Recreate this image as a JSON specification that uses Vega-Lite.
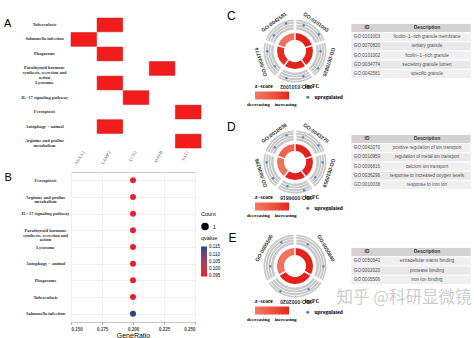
{
  "$schema": "https://vega.github.io/schema/vega-lite/v6.json",
  "background": "white",
  "padding": {"left": 3, "top": 10, "right": 2, "bottom": 2},
  "datasets": {
    "heat": [
      {"pathway": "Tuberculosis", "gene": "LAMP2"},
      {"pathway": "Salmonella infection", "gene": "ANXA2"},
      {"pathway": "Phagosome", "gene": "LAMP2"},
      {"pathway": "Parathyroid hormone synthesis, secretion and action", "gene": "MAFB"},
      {"pathway": "Lysosome", "gene": "LAMP2"},
      {"pathway": "IL−17 signaling pathway", "gene": "LCN2"},
      {"pathway": "Ferroptosis", "gene": "SAT1"},
      {"pathway": "Autophagy − animal", "gene": "LAMP2"},
      {"pathway": "Arginine and proline metabolism", "gene": "SAT1"}
    ],
    "dot": [
      {"pathway": "Ferroptosis", "GeneRatio": 0.2, "Count": 1, "qvalue": 0.0957},
      {"pathway": "Arginine and proline metabolism", "GeneRatio": 0.2, "Count": 1, "qvalue": 0.0957},
      {"pathway": "IL−17 signaling pathway", "GeneRatio": 0.2, "Count": 1, "qvalue": 0.0957},
      {"pathway": "Parathyroid hormone synthesis, secretion and action", "GeneRatio": 0.2, "Count": 1, "qvalue": 0.0957},
      {"pathway": "Lysosome", "GeneRatio": 0.2, "Count": 1, "qvalue": 0.0957},
      {"pathway": "Autophagy − animal", "GeneRatio": 0.2, "Count": 1, "qvalue": 0.0957},
      {"pathway": "Phagosome", "GeneRatio": 0.2, "Count": 1, "qvalue": 0.0957},
      {"pathway": "Tuberculosis", "GeneRatio": 0.2, "Count": 1, "qvalue": 0.0957},
      {"pathway": "Salmonella infection", "GeneRatio": 0.2, "Count": 1, "qvalue": 0.1155}
    ],
    "segC": [
      {"rank": 1, "go": "GO:0101003", "z": 2},
      {"rank": 2, "go": "GO:0070820", "z": 2},
      {"rank": 3, "go": "GO:0101002", "z": 2},
      {"rank": 4, "go": "GO:0034774", "z": 1.9},
      {"rank": 5, "go": "GO:0042581", "z": 1.1}
    ],
    "segD": [
      {"rank": 1, "go": "GO:0043270", "z": 2},
      {"rank": 2, "go": "GO:0010959", "z": 2},
      {"rank": 3, "go": "GO:0006816", "z": 2},
      {"rank": 4, "go": "GO:0036296", "z": 1.1},
      {"rank": 5, "go": "GO:0010038", "z": 1.3}
    ],
    "segE": [
      {"rank": 1, "go": "GO:0050840", "z": 2},
      {"rank": 2, "go": "GO:0002020", "z": 2},
      {"rank": 3, "go": "GO:0005506", "z": 1.1}
    ],
    "geneC": [
      {"k": 1, "gene": "LCN2", "logFC": 1.6, "reg": "upregulated"},
      {"k": 2, "gene": "LAMP2", "logFC": 2.3, "reg": "upregulated"},
      {"k": 3, "gene": "LCN2", "logFC": 1.2, "reg": "upregulated"},
      {"k": 4, "gene": "ANXA2", "logFC": 2.0, "reg": "upregulated"},
      {"k": 5, "gene": "LAMP2", "logFC": 1.4, "reg": "upregulated"},
      {"k": 6, "gene": "LCN2", "logFC": 2.2, "reg": "upregulated"},
      {"k": 7, "gene": "LCN2", "logFC": 1.1, "reg": "upregulated"},
      {"k": 8, "gene": "ANXA2", "logFC": 1.9, "reg": "upregulated"},
      {"k": 9, "gene": "LCN2", "logFC": 1.5, "reg": "upregulated"},
      {"k": 10, "gene": "LAMP2", "logFC": 2.4, "reg": "upregulated"}
    ],
    "geneD": [
      {"k": 1, "gene": "SAT1", "logFC": 1.3, "reg": "upregulated"},
      {"k": 2, "gene": "LCN2", "logFC": 2.2, "reg": "upregulated"},
      {"k": 3, "gene": "SAT1", "logFC": 1.8, "reg": "upregulated"},
      {"k": 4, "gene": "ANXA2", "logFC": 1.0, "reg": "upregulated"},
      {"k": 5, "gene": "SAT1", "logFC": 2.3, "reg": "upregulated"},
      {"k": 6, "gene": "LCN2", "logFC": 1.2, "reg": "upregulated"},
      {"k": 7, "gene": "SAT1", "logFC": 1.7, "reg": "upregulated"},
      {"k": 8, "gene": "ANXA2", "logFC": 2.1, "reg": "upregulated"},
      {"k": 9, "gene": "SAT1", "logFC": 1.1, "reg": "upregulated"},
      {"k": 10, "gene": "LCN2", "logFC": 2.0, "reg": "upregulated"}
    ],
    "geneE": [
      {"k": 1, "gene": "ANXA2", "logFC": 1.2, "reg": "upregulated"},
      {"k": 2, "gene": "LCN2", "logFC": 2.1, "reg": "upregulated"},
      {"k": 3, "gene": "ANXA2", "logFC": 1.6, "reg": "upregulated"},
      {"k": 4, "gene": "LCN2", "logFC": 2.3, "reg": "upregulated"},
      {"k": 5, "gene": "SAT1", "logFC": 1.0, "reg": "upregulated"},
      {"k": 6, "gene": "SAT1", "logFC": 1.9, "reg": "upregulated"}
    ],
    "tabC": [
      {"ID": "ID", "Description": "Description"},
      {"ID": "GO:0101003", "Description": "ficolin−1−rich granule membrane"},
      {"ID": "GO:0070820", "Description": "tertiary granule"},
      {"ID": "GO:0101002", "Description": "ficolin−1−rich granule"},
      {"ID": "GO:0034774", "Description": "secretory granule lumen"},
      {"ID": "GO:0042581", "Description": "specific granule"}
    ],
    "tabD": [
      {"ID": "ID", "Description": "Description"},
      {"ID": "GO:0043270", "Description": "positive regulation of ion transport"},
      {"ID": "GO:0010959", "Description": "regulation of metal ion transport"},
      {"ID": "GO:0006816", "Description": "calcium ion transport"},
      {"ID": "GO:0036296", "Description": "response to increased oxygen levels"},
      {"ID": "GO:0010038", "Description": "response to iron ion"}
    ],
    "tabE": [
      {"ID": "ID", "Description": "Description"},
      {"ID": "GO:0050840", "Description": "extracellular matrix binding"},
      {"ID": "GO:0002020", "Description": "protease binding"},
      {"ID": "GO:0005506", "Description": "iron ion binding"}
    ]
  },
  "spacing": 4,
  "resolve": {"scale": {"color": "independent", "fill": "independent", "size": "independent", "theta": "independent", "radius": "independent", "angle": "independent"}, "legend": {"color": "independent", "fill": "independent", "size": "independent"}},
  "hconcat": [
    {
      "spacing": 6,
      "resolve": {"scale": {"color": "independent", "fill": "independent", "size": "independent"}, "legend": {"color": "independent", "fill": "independent", "size": "independent"}},
      "vconcat": [
        {
          "title": {"text": "A", "orient": "left", "anchor": "end", "angle": 0, "fontSize": 11, "offset": 2},
          "width": 130,
          "height": 130,
          "data": {"name": "heat"},
          "mark": {"type": "rect", "color": "#f21c1c", "stroke": "#c41010", "strokeWidth": 0.5},
          "encoding": {
            "x": {"field": "gene", "type": "nominal",
              "scale": {"domain": ["ANXA2", "LAMP2", "LCN2", "MAFB", "SAT1"], "paddingInner": 0.02, "paddingOuter": 0},
              "axis": {"title": null, "domain": false, "ticks": false, "labelAngle": -60, "labelFontSize": 4.5, "labelFont": "Liberation Serif", "labelColor": "#666", "labelPadding": 3}},
            "y": {"field": "pathway", "type": "nominal",
              "scale": {"domain": ["Tuberculosis", "Salmonella infection", "Phagosome", "Parathyroid hormone synthesis, secretion and action", "Lysosome", "IL−17 signaling pathway", "Ferroptosis", "Autophagy − animal", "Arginine and proline metabolism"], "paddingInner": 0.05, "paddingOuter": 0},
              "axis": {"title": null, "domain": false, "ticks": false, "labelAlign": "center", "labelPadding": 27, "labelFontSize": 4.4, "labelLineHeight": 4.6, "labelFont": "Liberation Serif", "labelFontWeight": "bold", "labelColor": "#333",
                "labelExpr": "datum.value == 'Parathyroid hormone synthesis, secretion and action' ? ['Parathyroid hormone', 'synthesis, secretion and', 'action'] : datum.value == 'Arginine and proline metabolism' ? ['Arginine and proline', 'metabolism'] : datum.label"}}
          }
        },
        {
          "title": {"text": "B", "orient": "left", "anchor": "end", "angle": 0, "fontSize": 11, "offset": 2},
          "width": 124,
          "height": 150,
          "data": {"name": "dot"},
          "view": {"stroke": "#c8c8c8"},
          "mark": {"type": "circle", "opacity": 1},
          "encoding": {
            "x": {"field": "GeneRatio", "type": "quantitative", "scale": {"domain": [0.15, 0.25]},
              "axis": {"values": [0.15, 0.175, 0.2, 0.225, 0.25], "format": ".3f", "title": "GeneRatio", "titleFontSize": 7, "titleFont": "Liberation Sans", "titleFontWeight": "normal", "titlePadding": 1, "labelFontSize": 4.5, "labelFont": "Liberation Sans", "labelFontWeight": "bold", "labelColor": "#444", "domain": false, "tickSize": 2, "tickColor": "#999", "grid": true, "gridColor": "#efefef", "labelPadding": 2}},
            "y": {"field": "pathway", "type": "nominal",
              "scale": {"domain": ["Ferroptosis", "Arginine and proline metabolism", "IL−17 signaling pathway", "Parathyroid hormone synthesis, secretion and action", "Lysosome", "Autophagy − animal", "Phagosome", "Tuberculosis", "Salmonella infection"]},
              "axis": {"title": null, "domain": false, "ticks": false, "grid": true, "gridColor": "#efefef", "labelAlign": "center", "labelPadding": 26, "labelFontSize": 4.5, "labelLineHeight": 4.7, "labelFont": "Liberation Serif", "labelFontWeight": "bold", "labelColor": "#333",
                "labelExpr": "datum.value == 'Parathyroid hormone synthesis, secretion and action' ? ['Parathyroid hormone', 'synthesis, secretion and', 'action'] : datum.value == 'Arginine and proline metabolism' ? ['Arginine and proline', 'metabolism'] : datum.label"}},
            "size": {"field": "Count", "type": "quantitative", "scale": {"type": "linear", "domain": [0, 1], "range": [0, 36]},
              "legend": {"orient": "none", "legendX": 130, "legendY": 40, "title": "Count", "values": [1], "format": "d", "symbolFillColor": "#000000", "symbolStrokeColor": "#000000", "titleFontSize": 5.5, "labelFontSize": 5, "titleFont": "Liberation Sans", "labelFont": "Liberation Sans", "titleFontWeight": "normal"}},
            "color": {"field": "qvalue", "type": "quantitative",
              "scale": {"domain": [0.0945, 0.1157], "range": ["#f0162c", "#1f4592"], "interpolate": "lab"},
              "legend": {"orient": "none", "legendX": 130, "legendY": 64, "title": "qvalue", "values": [0.095, 0.1, 0.105, 0.11, 0.115], "format": ".3f", "gradientLength": 30, "gradientThickness": 6, "titleFontSize": 5.5, "labelFontSize": 4.5, "titleFont": "Liberation Sans", "labelFont": "Liberation Sans", "titleFontWeight": "normal"}}
          }
        }
      ]
    },
    {
      "spacing": 14,
      "resolve": {"scale": {"color": "independent", "fill": "independent", "theta": "independent", "radius": "independent", "angle": "independent"}, "legend": {"color": "independent", "fill": "independent"}},
      "vconcat": [
        {
          "title": {"text": "C", "orient": "left", "anchor": "end", "angle": 0, "fontSize": 12, "offset": 10},
          "spacing": 16,
          "center": true,
          "bounds": "flush",
          "resolve": {"scale": {"color": "independent", "fill": "independent", "theta": "independent", "radius": "independent", "angle": "independent"}, "legend": {"color": "independent", "fill": "independent"}},
          "hconcat": [
            {
              "width": 80, "height": 66,
              "resolve": {"scale": {"theta": "independent"}},
              "layer": [
                {"data": {"name": "segC"}, "mark": {"type": "arc", "radius": 31.5, "radius2": 21.5, "padAngle": 0.07, "color": "#c9c9c9"},
                  "encoding": {"theta": {"aggregate": "count", "type": "quantitative", "stack": true}, "order": {"field": "rank", "type": "quantitative"}, "detail": {"field": "go", "type": "nominal"}}},
                {"data": {"name": "segC"}, "mark": {"type": "arc", "radius": 24.6, "radius2": 24.0, "padAngle": 0.07, "color": "#ffffff"},
                  "encoding": {"theta": {"aggregate": "count", "type": "quantitative", "stack": true}, "order": {"field": "rank", "type": "quantitative"}, "detail": {"field": "go", "type": "nominal"}}},
                {"data": {"name": "segC"}, "mark": {"type": "arc", "radius": 27.2, "radius2": 26.6, "padAngle": 0.07, "color": "#ffffff"},
                  "encoding": {"theta": {"aggregate": "count", "type": "quantitative", "stack": true}, "order": {"field": "rank", "type": "quantitative"}, "detail": {"field": "go", "type": "nominal"}}},
                {"data": {"name": "segC"}, "mark": {"type": "arc", "radius": 29.8, "radius2": 29.2, "padAngle": 0.07, "color": "#ffffff"},
                  "encoding": {"theta": {"aggregate": "count", "type": "quantitative", "stack": true}, "order": {"field": "rank", "type": "quantitative"}, "detail": {"field": "go", "type": "nominal"}}},
                {"data": {"name": "segC"}, "mark": {"type": "arc", "radius": 18, "radius2": 11, "padAngle": 0.07},
                  "encoding": {"theta": {"aggregate": "count", "type": "quantitative", "stack": true}, "order": {"field": "rank", "type": "quantitative"}, "detail": {"field": "go", "type": "nominal"},
                    "fill": {"field": "z", "type": "quantitative", "scale": {"domain": [1, 2], "range": ["#f27866", "#e3221c"]},
                      "legend": {"orient": "bottom", "direction": "horizontal", "title": "z−score", "values": [1.1, 1.9], "labelExpr": "datum.value < 1.5 ? 'decreasing' : 'increasing'", "gradientLength": 34, "gradientThickness": 8, "titleFontSize": 5.5, "labelFontSize": 5, "titleFont": "Liberation Serif", "labelFont": "Liberation Serif", "labelFontWeight": "bold", "titleFontWeight": "bold", "titlePadding": 2, "offset": 0}}}},
                {"data": {"name": "segC"}, "mark": {"type": "text", "radius": 36, "fontSize": 5.2, "font": "Liberation Sans", "fontWeight": "bold", "color": "#333", "baseline": "middle", "align": "center"},
                  "encoding": {"theta": {"aggregate": "count", "type": "quantitative", "stack": true}, "order": {"field": "rank", "type": "quantitative"}, "detail": {"field": "go", "type": "nominal"}, "text": {"field": "go", "type": "nominal"},
                    "angle": {"field": "rank", "type": "quantitative", "scale": {"domain": [0, 5], "range": [-36, 324]}, "legend": null}}},
                {"data": {"name": "geneC"}, "mark": {"type": "text", "text": "●", "fontSize": 5.5, "baseline": "middle", "align": "center"},
                  "encoding": {"theta": {"field": "k", "type": "quantitative", "stack": false, "scale": {"domain": [0.5, 10.5], "range": [0, 6.2832]}},
                    "radius": {"field": "logFC", "type": "quantitative", "stack": false, "scale": {"type": "linear", "domain": [0, 3], "range": [21.5, 31.5], "zero": false}},
                    "color": {"field": "reg", "type": "nominal", "scale": {"domain": ["upregulated"], "range": ["#4f82b8"]},
                      "legend": {"orient": "bottom", "title": "logFC", "symbolType": "circle", "symbolSize": 10, "titleFontSize": 5.5, "labelFontSize": 5.5, "titleFont": "Liberation Serif", "labelFont": "Liberation Serif", "labelFontWeight": "bold", "titleFontWeight": "bold", "offset": 0}}}}
              ]
            },
            {
              "width": 120, "height": 55,
              "data": {"name": "tabC"},
              "transform": [{"window": [{"op": "row_number", "as": "rn"}]}],
              "layer": [
                {"mark": {"type": "rect", "stroke": "#ffffff", "strokeWidth": 0.8},
                  "encoding": {"y": {"field": "rn", "type": "ordinal", "axis": null, "scale": {"paddingInner": 0, "paddingOuter": 0}},
                    "color": {"condition": [{"test": "datum.rn == 1", "value": "#d3d3d3"}, {"test": "datum.rn % 2 == 0", "value": "#f0f0f0"}], "value": "#e9e9e9"}}},
                {"transform": [{"filter": "datum.rn > 1"}, {"fold": ["ID", "Description"], "as": ["key", "val"]}],
                  "mark": {"type": "text", "fontSize": 4.6, "font": "Liberation Sans", "color": "#555"},
                  "encoding": {"y": {"field": "rn", "type": "ordinal", "axis": null}, "x": {"field": "key", "type": "nominal", "scale": {"type": "point", "domain": ["ID", "Description"], "range": [16, 76], "padding": 0}, "axis": null}, "text": {"field": "val", "type": "nominal"}}},
                {"transform": [{"filter": "datum.rn == 1"}, {"fold": ["ID", "Description"], "as": ["key", "val"]}],
                  "mark": {"type": "text", "fontSize": 4.8, "font": "Liberation Sans", "fontWeight": "bold", "color": "#333"},
                  "encoding": {"y": {"field": "rn", "type": "ordinal", "axis": null}, "x": {"field": "key", "type": "nominal", "scale": {"type": "point", "domain": ["ID", "Description"], "range": [16, 76], "padding": 0}, "axis": null}, "text": {"field": "val", "type": "nominal"}}}
              ]
            }
          ]
        },
        {
          "title": {"text": "D", "orient": "left", "anchor": "end", "angle": 0, "fontSize": 12, "offset": 10},
          "spacing": 16,
          "center": true,
          "bounds": "flush",
          "resolve": {"scale": {"color": "independent", "fill": "independent", "theta": "independent", "radius": "independent", "angle": "independent"}, "legend": {"color": "independent", "fill": "independent"}},
          "hconcat": [
            {
              "width": 80, "height": 66,
              "resolve": {"scale": {"theta": "independent"}},
              "layer": [
                {"data": {"name": "segD"}, "mark": {"type": "arc", "radius": 31.5, "radius2": 21.5, "padAngle": 0.07, "color": "#c9c9c9"},
                  "encoding": {"theta": {"aggregate": "count", "type": "quantitative", "stack": true}, "order": {"field": "rank", "type": "quantitative"}, "detail": {"field": "go", "type": "nominal"}}},
                {"data": {"name": "segD"}, "mark": {"type": "arc", "radius": 24.6, "radius2": 24.0, "padAngle": 0.07, "color": "#ffffff"},
                  "encoding": {"theta": {"aggregate": "count", "type": "quantitative", "stack": true}, "order": {"field": "rank", "type": "quantitative"}, "detail": {"field": "go", "type": "nominal"}}},
                {"data": {"name": "segD"}, "mark": {"type": "arc", "radius": 27.2, "radius2": 26.6, "padAngle": 0.07, "color": "#ffffff"},
                  "encoding": {"theta": {"aggregate": "count", "type": "quantitative", "stack": true}, "order": {"field": "rank", "type": "quantitative"}, "detail": {"field": "go", "type": "nominal"}}},
                {"data": {"name": "segD"}, "mark": {"type": "arc", "radius": 29.8, "radius2": 29.2, "padAngle": 0.07, "color": "#ffffff"},
                  "encoding": {"theta": {"aggregate": "count", "type": "quantitative", "stack": true}, "order": {"field": "rank", "type": "quantitative"}, "detail": {"field": "go", "type": "nominal"}}},
                {"data": {"name": "segD"}, "mark": {"type": "arc", "radius": 18, "radius2": 11, "padAngle": 0.07},
                  "encoding": {"theta": {"aggregate": "count", "type": "quantitative", "stack": true}, "order": {"field": "rank", "type": "quantitative"}, "detail": {"field": "go", "type": "nominal"},
                    "fill": {"field": "z", "type": "quantitative", "scale": {"domain": [1, 2], "range": ["#f27866", "#e3221c"]},
                      "legend": {"orient": "bottom", "direction": "horizontal", "title": "z−score", "values": [1.1, 1.9], "labelExpr": "datum.value < 1.5 ? 'decreasing' : 'increasing'", "gradientLength": 34, "gradientThickness": 8, "titleFontSize": 5.5, "labelFontSize": 5, "titleFont": "Liberation Serif", "labelFont": "Liberation Serif", "labelFontWeight": "bold", "titleFontWeight": "bold", "titlePadding": 2, "offset": 0}}}},
                {"data": {"name": "segD"}, "mark": {"type": "text", "radius": 36, "fontSize": 5.2, "font": "Liberation Sans", "fontWeight": "bold", "color": "#333", "baseline": "middle", "align": "center"},
                  "encoding": {"theta": {"aggregate": "count", "type": "quantitative", "stack": true}, "order": {"field": "rank", "type": "quantitative"}, "detail": {"field": "go", "type": "nominal"}, "text": {"field": "go", "type": "nominal"},
                    "angle": {"field": "rank", "type": "quantitative", "scale": {"domain": [0, 5], "range": [-36, 324]}, "legend": null}}},
                {"data": {"name": "geneD"}, "mark": {"type": "text", "text": "●", "fontSize": 5.5, "baseline": "middle", "align": "center"},
                  "encoding": {"theta": {"field": "k", "type": "quantitative", "stack": false, "scale": {"domain": [0.5, 10.5], "range": [0, 6.2832]}},
                    "radius": {"field": "logFC", "type": "quantitative", "stack": false, "scale": {"type": "linear", "domain": [0, 3], "range": [21.5, 31.5], "zero": false}},
                    "color": {"field": "reg", "type": "nominal", "scale": {"domain": ["upregulated"], "range": ["#4f82b8"]},
                      "legend": {"orient": "bottom", "title": "logFC", "symbolType": "circle", "symbolSize": 10, "titleFontSize": 5.5, "labelFontSize": 5.5, "titleFont": "Liberation Serif", "labelFont": "Liberation Serif", "labelFontWeight": "bold", "titleFontWeight": "bold", "offset": 0}}}}
              ]
            },
            {
              "width": 120, "height": 55,
              "data": {"name": "tabD"},
              "transform": [{"window": [{"op": "row_number", "as": "rn"}]}],
              "layer": [
                {"mark": {"type": "rect", "stroke": "#ffffff", "strokeWidth": 0.8},
                  "encoding": {"y": {"field": "rn", "type": "ordinal", "axis": null, "scale": {"paddingInner": 0, "paddingOuter": 0}},
                    "color": {"condition": [{"test": "datum.rn == 1", "value": "#d3d3d3"}, {"test": "datum.rn % 2 == 0", "value": "#f0f0f0"}], "value": "#e9e9e9"}}},
                {"transform": [{"filter": "datum.rn > 1"}, {"fold": ["ID", "Description"], "as": ["key", "val"]}],
                  "mark": {"type": "text", "fontSize": 4.6, "font": "Liberation Sans", "color": "#555"},
                  "encoding": {"y": {"field": "rn", "type": "ordinal", "axis": null}, "x": {"field": "key", "type": "nominal", "scale": {"type": "point", "domain": ["ID", "Description"], "range": [16, 76], "padding": 0}, "axis": null}, "text": {"field": "val", "type": "nominal"}}},
                {"transform": [{"filter": "datum.rn == 1"}, {"fold": ["ID", "Description"], "as": ["key", "val"]}],
                  "mark": {"type": "text", "fontSize": 4.8, "font": "Liberation Sans", "fontWeight": "bold", "color": "#333"},
                  "encoding": {"y": {"field": "rn", "type": "ordinal", "axis": null}, "x": {"field": "key", "type": "nominal", "scale": {"type": "point", "domain": ["ID", "Description"], "range": [16, 76], "padding": 0}, "axis": null}, "text": {"field": "val", "type": "nominal"}}}
              ]
            }
          ]
        },
        {
          "title": {"text": "E", "orient": "left", "anchor": "end", "angle": 0, "fontSize": 12, "offset": 10},
          "spacing": 16,
          "center": true,
          "bounds": "flush",
          "resolve": {"scale": {"color": "independent", "fill": "independent", "theta": "independent", "radius": "independent", "angle": "independent"}, "legend": {"color": "independent", "fill": "independent"}},
          "hconcat": [
            {
              "width": 80, "height": 66,
              "resolve": {"scale": {"theta": "independent"}},
              "layer": [
                {"data": {"name": "segE"}, "mark": {"type": "arc", "radius": 31.5, "radius2": 21.5, "padAngle": 0.07, "color": "#c9c9c9"},
                  "encoding": {"theta": {"aggregate": "count", "type": "quantitative", "stack": true}, "order": {"field": "rank", "type": "quantitative"}, "detail": {"field": "go", "type": "nominal"}}},
                {"data": {"name": "segE"}, "mark": {"type": "arc", "radius": 24.6, "radius2": 24.0, "padAngle": 0.07, "color": "#ffffff"},
                  "encoding": {"theta": {"aggregate": "count", "type": "quantitative", "stack": true}, "order": {"field": "rank", "type": "quantitative"}, "detail": {"field": "go", "type": "nominal"}}},
                {"data": {"name": "segE"}, "mark": {"type": "arc", "radius": 27.2, "radius2": 26.6, "padAngle": 0.07, "color": "#ffffff"},
                  "encoding": {"theta": {"aggregate": "count", "type": "quantitative", "stack": true}, "order": {"field": "rank", "type": "quantitative"}, "detail": {"field": "go", "type": "nominal"}}},
                {"data": {"name": "segE"}, "mark": {"type": "arc", "radius": 29.8, "radius2": 29.2, "padAngle": 0.07, "color": "#ffffff"},
                  "encoding": {"theta": {"aggregate": "count", "type": "quantitative", "stack": true}, "order": {"field": "rank", "type": "quantitative"}, "detail": {"field": "go", "type": "nominal"}}},
                {"data": {"name": "segE"}, "mark": {"type": "arc", "radius": 18, "radius2": 11, "padAngle": 0.07},
                  "encoding": {"theta": {"aggregate": "count", "type": "quantitative", "stack": true}, "order": {"field": "rank", "type": "quantitative"}, "detail": {"field": "go", "type": "nominal"},
                    "fill": {"field": "z", "type": "quantitative", "scale": {"domain": [1, 2], "range": ["#f27866", "#e3221c"]},
                      "legend": {"orient": "bottom", "direction": "horizontal", "title": "z−score", "values": [1.1, 1.9], "labelExpr": "datum.value < 1.5 ? 'decreasing' : 'increasing'", "gradientLength": 34, "gradientThickness": 8, "titleFontSize": 5.5, "labelFontSize": 5, "titleFont": "Liberation Serif", "labelFont": "Liberation Serif", "labelFontWeight": "bold", "titleFontWeight": "bold", "titlePadding": 2, "offset": 0}}}},
                {"data": {"name": "segE"}, "mark": {"type": "text", "radius": 36, "fontSize": 5.2, "font": "Liberation Sans", "fontWeight": "bold", "color": "#333", "baseline": "middle", "align": "center"},
                  "encoding": {"theta": {"aggregate": "count", "type": "quantitative", "stack": true}, "order": {"field": "rank", "type": "quantitative"}, "detail": {"field": "go", "type": "nominal"}, "text": {"field": "go", "type": "nominal"},
                    "angle": {"field": "rank", "type": "quantitative", "scale": {"domain": [0, 3], "range": [-60, 300]}, "legend": null}}},
                {"data": {"name": "geneE"}, "mark": {"type": "text", "text": "●", "fontSize": 5.5, "baseline": "middle", "align": "center"},
                  "encoding": {"theta": {"field": "k", "type": "quantitative", "stack": false, "scale": {"domain": [0.5, 6.5], "range": [0, 6.2832]}},
                    "radius": {"field": "logFC", "type": "quantitative", "stack": false, "scale": {"type": "linear", "domain": [0, 3], "range": [21.5, 31.5], "zero": false}},
                    "color": {"field": "reg", "type": "nominal", "scale": {"domain": ["upregulated"], "range": ["#4f82b8"]},
                      "legend": {"orient": "bottom", "title": "logFC", "symbolType": "circle", "symbolSize": 10, "titleFontSize": 5.5, "labelFontSize": 5.5, "titleFont": "Liberation Serif", "labelFont": "Liberation Serif", "labelFontWeight": "bold", "titleFontWeight": "bold", "offset": 0}}}}
              ]
            },
            {
              "width": 120, "height": 37,
              "title": {"text": "知乎 @科研显微镜", "orient": "bottom", "anchor": "end", "font": "Noto Sans CJK SC", "fontSize": 16.5, "fontWeight": "normal", "color": "#cdcdcd", "offset": 5, "baseline": "top"},
              "data": {"name": "tabE"},
              "transform": [{"window": [{"op": "row_number", "as": "rn"}]}],
              "layer": [
                {"mark": {"type": "rect", "stroke": "#ffffff", "strokeWidth": 0.8},
                  "encoding": {"y": {"field": "rn", "type": "ordinal", "axis": null, "scale": {"paddingInner": 0, "paddingOuter": 0}},
                    "color": {"condition": [{"test": "datum.rn == 1", "value": "#d3d3d3"}, {"test": "datum.rn % 2 == 0", "value": "#f0f0f0"}], "value": "#e9e9e9"}}},
                {"transform": [{"filter": "datum.rn > 1"}, {"fold": ["ID", "Description"], "as": ["key", "val"]}],
                  "mark": {"type": "text", "fontSize": 4.6, "font": "Liberation Sans", "color": "#555"},
                  "encoding": {"y": {"field": "rn", "type": "ordinal", "axis": null}, "x": {"field": "key", "type": "nominal", "scale": {"type": "point", "domain": ["ID", "Description"], "range": [16, 76], "padding": 0}, "axis": null}, "text": {"field": "val", "type": "nominal"}}},
                {"transform": [{"filter": "datum.rn == 1"}, {"fold": ["ID", "Description"], "as": ["key", "val"]}],
                  "mark": {"type": "text", "fontSize": 4.8, "font": "Liberation Sans", "fontWeight": "bold", "color": "#333"},
                  "encoding": {"y": {"field": "rn", "type": "ordinal", "axis": null}, "x": {"field": "key", "type": "nominal", "scale": {"type": "point", "domain": ["ID", "Description"], "range": [16, 76], "padding": 0}, "axis": null}, "text": {"field": "val", "type": "nominal"}}}
              ]
            }
          ]
        }
      ]
    }
  ],
  "config": {
    "view": {"stroke": null},
    "axis": {"grid": false},
    "legend": {"padding": 0},
    "title": {"font": "Liberation Sans", "fontWeight": "normal", "color": "#000000"}
  }
}
